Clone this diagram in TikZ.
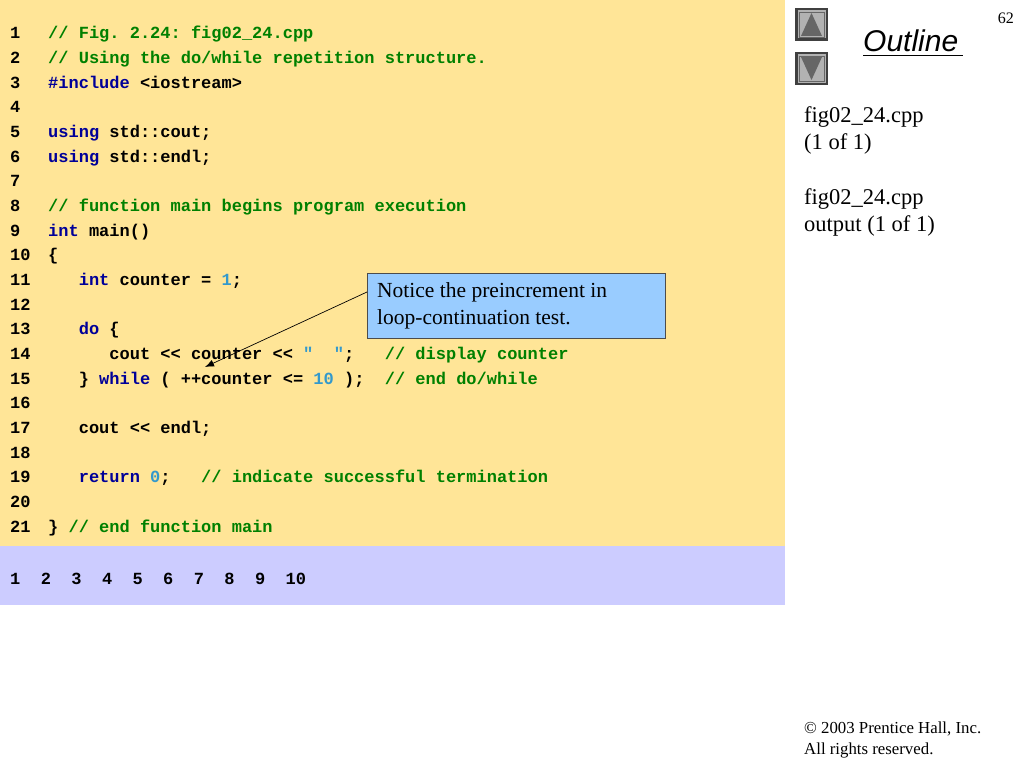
\documentclass[tikz,border=0pt]{standalone}
\usepackage{fontspec}
\setmainfont{Liberation Serif}
\newfontfamily\codef{Liberation Mono}[Ligatures=NoCommon]
\newfontfamily\outf{Liberation Sans}
\usetikzlibrary{arrows.meta}
\definecolor{bgy}{HTML}{FFE597}
\definecolor{bgo}{HTML}{CCCCFF}
\definecolor{kw}{HTML}{000099}
\definecolor{cm}{HTML}{008000}
\definecolor{nm}{HTML}{3399CC}
\definecolor{callf}{HTML}{99CCFF}
\newcommand\kw[1]{\textcolor{kw}{#1}}
\newcommand\cm[1]{\textcolor{cm}{#1}}
\newcommand\nm[1]{\textcolor{nm}{#1}}
\newcommand\LLt{\char`\<\char`\<}
\newcommand\QQ{\char`\"}
\begin{document}
\begin{tikzpicture}[x=1pt,y=-1pt,
  code/.style={anchor=base west,inner sep=0pt,font=\codef\bfseries\fontsize{17}{20}\selectfont},
  rt/.style={anchor=base west,inner sep=0pt,font=\fontsize{22.5}{25}\selectfont,align=left}]
\useasboundingbox (0,0) rectangle (1024,768);
\fill[white] (0,0) rectangle (1024,768);
\fill[bgy] (0,0) rectangle (785,546);
\fill[bgo] (0,546) rectangle (785,605);
\foreach \i/\t in {
 1/{\cm{//~Fig.~2.24:~fig02\_24.cpp}},
 2/{\cm{//~Using~the~do/while~repetition~structure.}},
 3/{\kw{\#include}~\char`\<iostream\char`\>},
 4/{},
 5/{\kw{using}~std::cout;},
 6/{\kw{using}~std::endl;},
 7/{},
 8/{\cm{//~function~main~begins~program~execution}},
 9/{\kw{int}~main()},
 10/{\{},
 11/{~~~\kw{int}~counter~=~\nm{1};},
 12/{},
 13/{~~~\kw{do}~\{},
 14/{~~~~~~cout~\LLt~counter~\LLt~\nm{\QQ~~\QQ};~~~\cm{//~display~counter}},
 15/{~~~\}~\kw{while}~(~++counter~\char`\<=~\nm{10}~);~~\cm{//~end~do/while}},
 16/{},
 17/{~~~cout~\LLt~endl;},
 18/{},
 19/{~~~\kw{return}~\nm{0};~~~\cm{//~indicate~successful~termination}},
 20/{},
 21/{\}~\cm{//~end~function~main}}} {
  \node[code] (n\i) at (10,{39+(\i-1)*24.65}) {\i};
  \node[code] (c\i) at (48,{39+(\i-1)*24.65}) {\t};
}
\node[code] (out) at (10,584) {1~~2~~3~~4~~5~~6~~7~~8~~9~~10};
% callout
\node[draw=black!70,fill=callf,line width=0.8pt,minimum width=298pt,minimum height=65pt,
  inner sep=0pt,anchor=north west] (call) at (367,273) {};
\node[anchor=north west,inner sep=0pt,align=left,font=\fontsize{21.5}{27}\selectfont] (callt) at (377,282)
  {Notice the preincrement in\\loop-continuation test.};
\coordinate (tip) at (205,367);
\draw[-{Latex[length=9pt,width=7pt]},line width=0.7pt] (call.north west|-0,292) -- (tip);
% nav buttons
\foreach \y/\n in {8/up,52/dn}{
  \fill[black!75] (795,\y) rectangle (828,\y+33);
  \fill[black!30] (797.5,\y+2.5) rectangle (825.5,\y+30.5);
  \draw[black!60] (799,\y+4) rectangle (824,\y+29);
}
\fill[black!60] (811.5,13) -- (801,36) -- (822,36) -- cycle;
\fill[black!60] (811.5,80) -- (801,57) -- (822,57) -- cycle;
\node[anchor=base west,inner sep=0pt,font=\outf\itshape\fontsize{30}{34}\selectfont] (outl) at (863,52) {Outline};
\draw[line width=1pt] (863,55.5) -- (963,55.5);
\node[anchor=base east,inner sep=0pt,font=\fontsize{16}{18}\selectfont] (pg) at (1014,24) {62};
\node[rt] (f1) at (804,122) {fig02\_24.cpp};
\node[rt] (f2) at (804,149) {(1 of 1)};
\node[rt] (f3) at (804,204) {fig02\_24.cpp};
\node[rt] (f4) at (804,231) {output (1 of 1)};
\node[anchor=base west,inner sep=0pt,font=\fontsize{16.8}{18}\selectfont] (c1) at (804,733) {\textcopyright{} 2003 Prentice Hall, Inc.};
\node[anchor=base west,inner sep=0pt,font=\fontsize{16.8}{18}\selectfont] (c2) at (804,754) {All rights reserved.};
\end{tikzpicture}
\end{document}
